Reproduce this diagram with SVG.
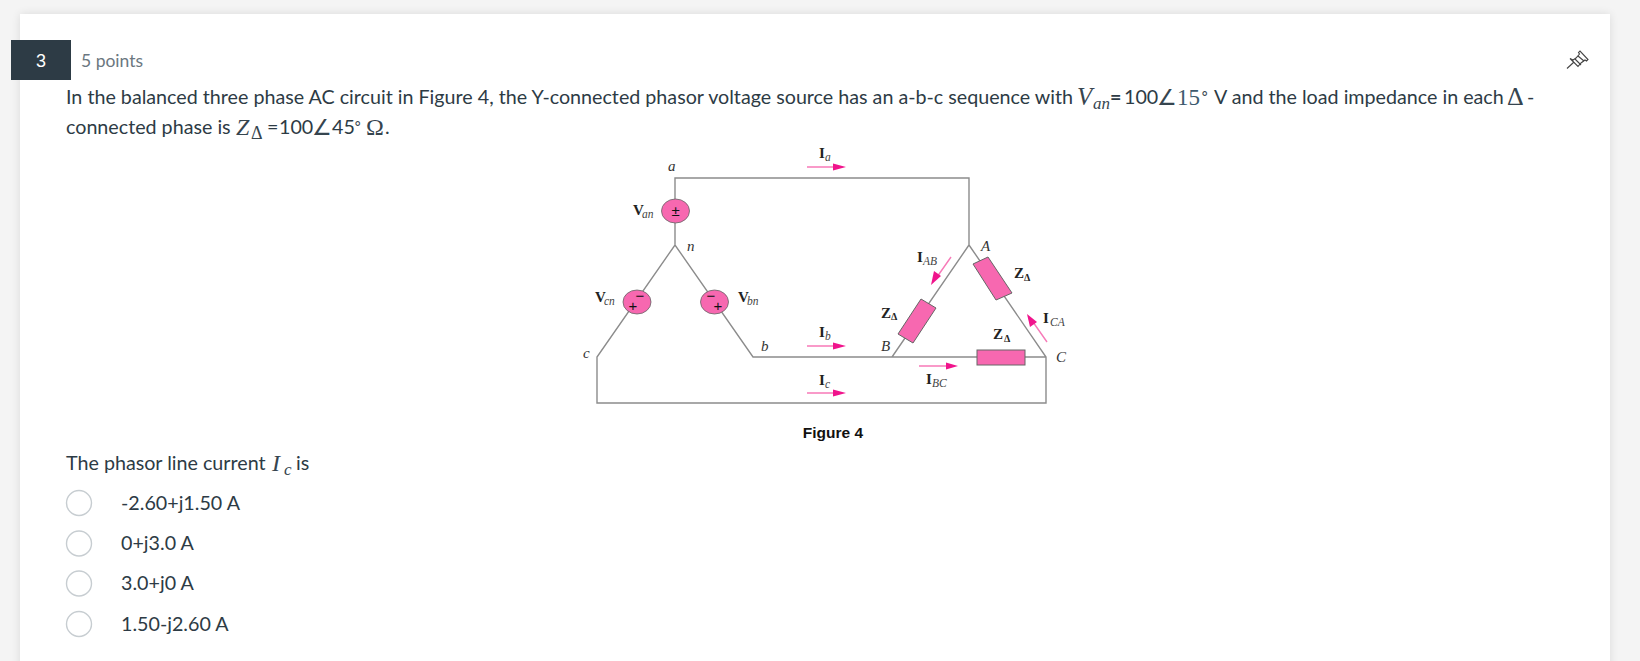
<svg xmlns="http://www.w3.org/2000/svg" width="1640" height="661" viewBox="0 0 1640 661">
<style>
text{font-family:"Lato","Open Sans",sans-serif;fill:#2d3b45;font-size:19.700px}
.m{font-family:"Liberation Serif",serif;fill:#36454f}
.mi{font-family:"Liberation Serif",serif;font-style:italic;fill:#36454f}
.ang{font-family:"DejaVu Sans",sans-serif;font-weight:200;font-size:22px;fill:#36454f}
.wire{fill:none;stroke:#8c8c8c;stroke-width:1.4}
.src{fill:#f768b0;stroke:#666;stroke-width:.8}
.imp{fill:#f768b0;stroke:#666;stroke-width:1}
.cur{stroke:#f77ab8;stroke-width:1.4;fill:none}
.hd{fill:#f0148c}
.lb{font-family:"Liberation Serif",serif;font-weight:bold;font-size:15px;fill:#222}
.sb{font-family:"Liberation Serif",serif;font-style:italic;font-size:11.500px;fill:#444}
.it{font-family:"Liberation Serif",serif;font-style:italic;font-size:15px;fill:#333}
.sg{font-family:"Liberation Sans",sans-serif;font-size:15px;fill:#111;text-anchor:middle}
.radio{fill:#fff;stroke:#c7cdd1;stroke-width:1.4}
</style>
<defs>
<filter id="sh" x="-5%" y="-5%" width="110%" height="110%"><feGaussianBlur stdDeviation="5"/></filter>
</defs>
<rect width="1640" height="661" fill="#f4f4f4"/>
<rect x="20" y="14" width="1590" height="660" fill="#000" opacity=".1" filter="url(#sh)"/>
<rect x="20" y="14" width="1590" height="660" fill="#fff"/>
<g id="badge"><rect x="11" y="40" width="60" height="40" fill="#2d3b45"/><text x="41" y="67" text-anchor="middle" style="font-family:'Liberation Sans',sans-serif;fill:#fff;font-size:18px">3</text></g>
<text x="81" y="67" style="font-size:17.500px;fill:#6b7780">5 points</text>
<g id="pin" fill="none" stroke="#444" stroke-width="1.1"><path d="M1567 68.500L1574 62"/><path d="M1570 58.500L1578 66.500L1581 63L1585 60L1586.500 61L1588 59.500L1580 51L1578.500 52.500L1579.500 54L1576 58L1573 60Z"/><path d="M1575 59L1581 65M1578 56L1584 61"/></g>
<g id="question">
<text x="66" y="104">In the balanced three phase AC circuit in Figure 4, the Y-connected phasor voltage source has an a-b-c sequence with</text>
<text class="mi" x="1077" y="105" style="font-size:25px">V</text><text class="mi" x="1093" y="109" style="font-size:17px">an</text>
<text x="1110" y="104" style="font-weight:bold">=</text><text x="1124" y="104">100</text><text class="ang" x="1157" y="105">∠</text><text class="m" x="1177" y="105" style="font-size:23px;fill:#3d5a6e">15</text><text class="m" x="1200" y="98" style="font-size:15px">∘</text>
<text x="1214" y="104">V and the load impedance in each</text>
<text class="m" x="1507" y="105" style="font-size:26px">Δ</text><text x="1527" y="104">-</text>
<text x="66" y="134">connected phase is</text>
<text class="mi" x="236" y="135" style="font-size:24px">Z</text><text class="m" x="251" y="139" style="font-size:18px">Δ</text>
<text x="267" y="134">=</text><text x="279" y="134">100</text><text class="ang" x="312" y="135">∠</text><text x="332" y="134">45</text><text class="m" x="353" y="128" style="font-size:15px">∘</text>
<text class="m" x="366" y="135" style="font-size:24px">Ω</text><text x="385" y="134">.</text>
<text x="66" y="470">The phasor line current</text>
<text class="mi" x="272" y="471" style="font-size:24px">I</text><text class="mi" x="284" y="475" style="font-size:17px">c</text>
<text x="296" y="470">is</text>
</g>
<g id="connectors">
<path class="wire" d="M675 245V178H969V245L892 357M969 245L1046 357V403H597V357L675 245L753 357H1046"/>
<path class="cur" d="M807 167H835M807 346H835M807 393H835M919 366H948M1047 342L1033 322M951 257L937 277"/>
<polygon class="hd" points="846,167 833,163.500 833,170.500"/>
<polygon class="hd" points="846,346 833,342.500 833,349.500"/>
<polygon class="hd" points="846,393 833,389.500 833,396.500"/>
<polygon class="hd" points="958,366 946,362.500 946,369.500"/>
<polygon class="hd" points="1027,314 1030,327 1037,322"/>
<polygon class="hd" points="931,285 941,276 934,271"/>
</g>
<g id="source-an"><ellipse class="src" cx="675.500" cy="211" rx="14" ry="12"/><text class="sg" x="675.500" y="216">±</text></g>
<g id="source-cn"><ellipse class="src" cx="637" cy="302" rx="14" ry="12"/><text class="sg" x="640" y="301">−</text><text class="sg" x="633" y="311">+</text></g>
<g id="source-bn"><ellipse class="src" cx="714.500" cy="302" rx="14" ry="12"/><text class="sg" x="711" y="301">−</text><text class="sg" x="718" y="311">+</text></g>
<g id="load-ab"><polygon class="imp" points="921,299 936,308 913,343 898,334"/></g>
<g id="load-ca"><polygon class="imp" points="973,264 988,257 1012,293 996,300"/></g>
<g id="load-bc"><rect class="imp" x="977" y="350" width="48" height="15"/></g>
<g id="labels">
<text class="it" x="668" y="171">a</text><text class="it" x="687" y="251">n</text><text class="it" x="583" y="358">c</text><text class="it" x="761" y="351">b</text>
<text class="it" x="981" y="251">A</text><text class="it" x="881" y="351">B</text><text class="it" x="1056" y="362">C</text>
<text class="lb" x="633" y="215">V</text><text class="sb" x="642" y="218">an</text>
<text class="lb" x="595" y="302">V</text><text class="sb" x="604" y="305">cn</text>
<text class="lb" x="738" y="302">V</text><text class="sb" x="747" y="305">bn</text>
<text class="lb" x="819" y="158">I</text><text class="sb" x="825" y="161">a</text>
<text class="lb" x="819" y="337">I</text><text class="sb" x="825" y="340">b</text>
<text class="lb" x="819" y="385">I</text><text class="sb" x="825" y="388">c</text>
<text class="lb" x="917" y="262">I</text><text class="sb" x="923" y="265">AB</text>
<text class="lb" x="926" y="384">I</text><text class="sb" x="932" y="387">BC</text>
<text class="lb" x="1043" y="323">I</text><text class="sb" x="1050" y="326">CA</text>
<text class="lb" x="1014" y="278">Z</text><text class="lb" x="1024" y="281" style="font-size:10px">Δ</text>
<text class="lb" x="881" y="318">Z</text><text class="lb" x="891" y="320" style="font-size:10px">Δ</text>
<text class="lb" x="993" y="339">Z</text><text class="lb" x="1004" y="342" style="font-size:10px">Δ</text>
<text x="833" y="438" text-anchor="middle" style="font-family:'Liberation Sans',sans-serif;font-weight:bold;font-size:15.500px;fill:#111">Figure 4</text>
</g>
<g id="option-1"><circle class="radio" cx="79" cy="503" r="12.500"/><text x="121" y="510">-2.60+j1.50 A</text></g>
<g id="option-2"><circle class="radio" cx="79" cy="543.500" r="12.500"/><text x="121" y="550">0+j3.0 A</text></g>
<g id="option-3"><circle class="radio" cx="79" cy="583.500" r="12.500"/><text x="121" y="590">3.0+j0 A</text></g>
<g id="option-4"><circle class="radio" cx="79" cy="624" r="12.500"/><text x="121" y="631">1.50-j2.60 A</text></g>
</svg>
